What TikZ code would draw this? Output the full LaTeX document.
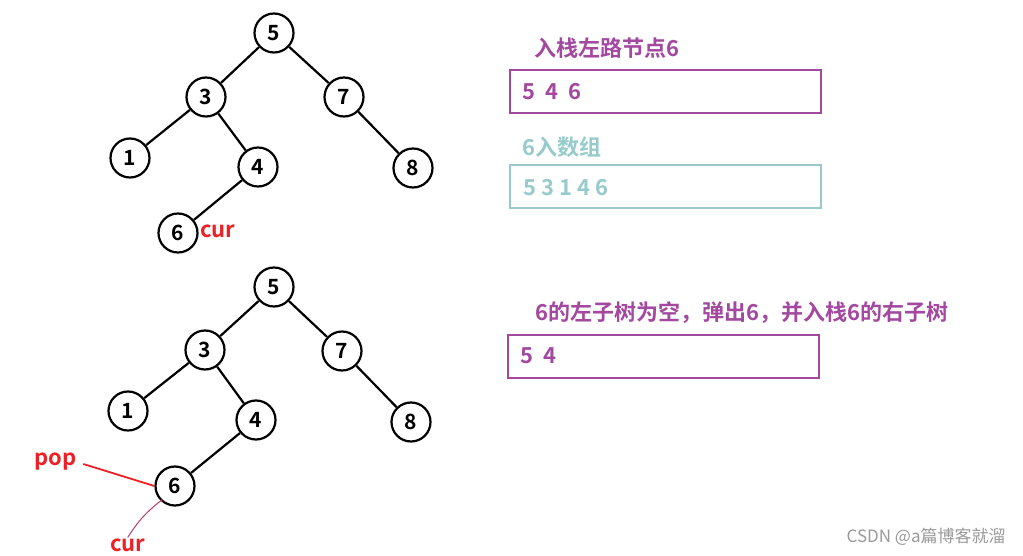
\documentclass[tikz,border=0pt]{standalone}
\usepackage{fontspec}
\setmainfont{Noto Sans CJK SC}[BoldFont={* Bold}]
\definecolor{stackc}{HTML}{A2489F}
\definecolor{arrc}{HTML}{96CACB}
\definecolor{curc}{HTML}{EE2026}
\tikzset{tn/.style={circle,draw,line width=2.2pt,minimum size=39pt,inner sep=0pt,font=\fontsize{21}{22}\selectfont\bfseries},
  lbl/.style={font=\fontsize{22}{24}\selectfont\bfseries,anchor=west,inner sep=0pt},
  box/.style={line width=2.6pt}}
\begin{document}
\begin{tikzpicture}[x=1pt,y=-1pt,line width=2.2pt]
\useasboundingbox (0,0) rectangle (1023,556);
% upper tree
\node[tn] (a5) at (274,33) {5};
\node[tn] (a3) at (206,97) {3};
\node[tn] (a7) at (344,97) {7};
\node[tn] (a1) at (130,158) {1};
\node[tn] (a4) at (258,167) {4};
\node[tn] (a8) at (413,168) {8};
\node[tn] (a6) at (178,233) {6};
\draw (a5) -- (a3) (a5) -- (a7) (a3) -- (a1) (a3) -- (a4) (a7) -- (a8) (a4) -- (a6);
\node[lbl,text=curc] (acur) at (199,231) {cur};
% lower tree
\node[tn] (b5) at (274,287) {5};
\node[tn] (b3) at (205,350) {3};
\node[tn] (b7) at (342,351) {7};
\node[tn] (b1) at (128,411) {1};
\node[tn] (b4) at (256,420) {4};
\node[tn] (b8) at (411,422) {8};
\node[tn] (b6) at (175,486) {6};
\draw (b5) -- (b3) (b5) -- (b7) (b3) -- (b1) (b3) -- (b4) (b7) -- (b8) (b4) -- (b6);
\node[lbl,text=curc] (pop) at (33,462) {pop};
\node[lbl,text=curc] (bcur) at (109,545) {cur};
\draw[curc,line width=1.8pt] (pop.east) ++(6,2) -- (b6.west);
\draw[stackc!60!curc,line width=1pt] (b6.south west) ++(2,-1) to[bend right=10] (bcur.north);
% stack and array
\node[lbl,text=stackc] (t1) at (533,48) {入栈左路节点6};
\draw[box,stackc] (510,70) rectangle (821,113);
\node[lbl,text=stackc] (s1) at (521,92) {5\ \ 4\ \ 6};
\node[lbl,text=arrc] (t2) at (521,147) {6入数组};
\draw[box,arrc] (510,165) rectangle (821,208);
\node[lbl,text=arrc] (r1) at (522,188) {5\ 3\ 1\ 4\ 6};
\node[lbl,text=stackc] (t3) at (534,313) {6的左子树为空，弹出6，并入栈6的右子树};
\draw[box,stackc] (508,335) rectangle (819,378);
\node[lbl,text=stackc] (s2) at (519,356) {5\ \ 4};
\node[anchor=east,text=gray!80,font=\fontsize{17}{19}\selectfont] (wm) at (1010,537) {CSDN @a篇博客就溜};
\end{tikzpicture}
\end{document}
